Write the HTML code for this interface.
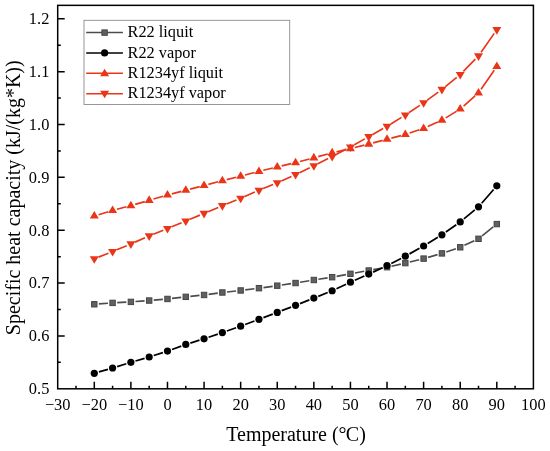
<!DOCTYPE html><html><head><meta charset="utf-8"><title>Specific heat capacity</title><style>html,body{margin:0;padding:0;background:#fff}svg{display:block}</style></head><body>
<svg width="550" height="451" viewBox="0 0 550 451">
<rect width="550" height="451" fill="#fff"/>
<path d="M98.88 303.92L108.00 303.24M117.18 302.64L126.29 302.13M135.47 301.55L144.59 300.89M153.76 300.15L162.89 299.36M172.05 298.43L181.20 297.37M190.35 296.37L199.49 295.44M208.63 294.36L217.81 293.10M226.94 291.98L236.09 290.97M245.23 289.90L254.39 288.75M263.52 287.56L272.70 286.31M281.81 285.03L291.00 283.69M300.09 282.28L309.31 280.76M318.39 279.30L327.60 277.89M336.66 276.35L345.92 274.63M354.97 272.98L364.21 271.31M373.26 269.68L382.50 268.02M391.52 266.20L400.84 264.12M409.79 262.02L419.16 259.71M428.05 257.35L437.49 254.66M446.28 251.94L455.85 248.75M464.39 245.36L474.34 240.74M482.10 235.92L493.22 226.97" stroke="#4c4c4c" stroke-width="1.65" fill="none"/>
<rect x="91.59" y="301.57" width="5.4" height="5.4" fill="#606060" stroke="#454545" stroke-width="1"/><rect x="109.89" y="300.19" width="5.4" height="5.4" fill="#606060" stroke="#454545" stroke-width="1"/><rect x="128.18" y="299.18" width="5.4" height="5.4" fill="#606060" stroke="#454545" stroke-width="1"/><rect x="146.48" y="297.85" width="5.4" height="5.4" fill="#606060" stroke="#454545" stroke-width="1"/><rect x="164.78" y="296.26" width="5.4" height="5.4" fill="#606060" stroke="#454545" stroke-width="1"/><rect x="183.07" y="294.14" width="5.4" height="5.4" fill="#606060" stroke="#454545" stroke-width="1"/><rect x="201.37" y="292.28" width="5.4" height="5.4" fill="#606060" stroke="#454545" stroke-width="1"/><rect x="219.67" y="289.78" width="5.4" height="5.4" fill="#606060" stroke="#454545" stroke-width="1"/><rect x="237.96" y="287.76" width="5.4" height="5.4" fill="#606060" stroke="#454545" stroke-width="1"/><rect x="256.26" y="285.48" width="5.4" height="5.4" fill="#606060" stroke="#454545" stroke-width="1"/><rect x="274.55" y="282.99" width="5.4" height="5.4" fill="#606060" stroke="#454545" stroke-width="1"/><rect x="292.85" y="280.33" width="5.4" height="5.4" fill="#606060" stroke="#454545" stroke-width="1"/><rect x="311.15" y="277.30" width="5.4" height="5.4" fill="#606060" stroke="#454545" stroke-width="1"/><rect x="329.44" y="274.49" width="5.4" height="5.4" fill="#606060" stroke="#454545" stroke-width="1"/><rect x="347.74" y="271.09" width="5.4" height="5.4" fill="#606060" stroke="#454545" stroke-width="1"/><rect x="366.03" y="267.80" width="5.4" height="5.4" fill="#606060" stroke="#454545" stroke-width="1"/><rect x="384.33" y="264.51" width="5.4" height="5.4" fill="#606060" stroke="#454545" stroke-width="1"/><rect x="402.63" y="260.42" width="5.4" height="5.4" fill="#606060" stroke="#454545" stroke-width="1"/><rect x="420.92" y="255.91" width="5.4" height="5.4" fill="#606060" stroke="#454545" stroke-width="1"/><rect x="439.22" y="250.70" width="5.4" height="5.4" fill="#606060" stroke="#454545" stroke-width="1"/><rect x="457.52" y="244.59" width="5.4" height="5.4" fill="#606060" stroke="#454545" stroke-width="1"/><rect x="475.81" y="236.10" width="5.4" height="5.4" fill="#606060" stroke="#454545" stroke-width="1"/><rect x="494.11" y="221.39" width="5.4" height="5.4" fill="#606060" stroke="#454545" stroke-width="1"/>
<path d="M98.90 371.96L107.98 369.33M117.17 366.57L126.30 363.73M135.49 360.97L144.57 358.34M153.75 355.53L162.91 352.58M171.99 349.47L181.26 346.10M190.36 343.04L199.49 340.21M208.61 337.24L217.82 334.12M226.90 330.99L236.13 327.78M245.15 324.51L254.47 320.99M263.45 317.60L272.76 314.09M281.73 310.67L291.07 307.06M300.01 303.57L309.38 299.87M318.30 296.32L327.69 292.53M336.49 288.70L346.09 284.21M354.83 280.24L364.34 276.05M373.10 272.11L382.67 267.72M391.29 263.51L401.07 258.43M409.52 253.88L419.43 248.36M427.72 243.51L437.83 237.32M445.85 232.06L456.29 224.72M463.91 218.91L474.81 209.89M481.67 203.22L493.65 189.48" stroke="#000000" stroke-width="1.75" fill="none"/>
<circle cx="94.29" cy="373.30" r="3.6" fill="#000000"/><circle cx="112.59" cy="367.99" r="3.6" fill="#000000"/><circle cx="130.88" cy="362.31" r="3.6" fill="#000000"/><circle cx="149.18" cy="357.00" r="3.6" fill="#000000"/><circle cx="167.48" cy="351.11" r="3.6" fill="#000000"/><circle cx="185.77" cy="344.47" r="3.6" fill="#000000"/><circle cx="204.07" cy="338.79" r="3.6" fill="#000000"/><circle cx="222.37" cy="332.57" r="3.6" fill="#000000"/><circle cx="240.66" cy="326.20" r="3.6" fill="#000000"/><circle cx="258.96" cy="319.30" r="3.6" fill="#000000"/><circle cx="277.25" cy="312.40" r="3.6" fill="#000000"/><circle cx="295.55" cy="305.33" r="3.6" fill="#000000"/><circle cx="313.85" cy="298.11" r="3.6" fill="#000000"/><circle cx="332.14" cy="290.73" r="3.6" fill="#000000"/><circle cx="350.44" cy="282.18" r="3.6" fill="#000000"/><circle cx="368.73" cy="274.11" r="3.6" fill="#000000"/><circle cx="387.03" cy="265.72" r="3.6" fill="#000000"/><circle cx="405.33" cy="256.22" r="3.6" fill="#000000"/><circle cx="423.62" cy="246.02" r="3.6" fill="#000000"/><circle cx="441.92" cy="234.82" r="3.6" fill="#000000"/><circle cx="460.22" cy="221.97" r="3.6" fill="#000000"/><circle cx="478.51" cy="206.83" r="3.6" fill="#000000"/><circle cx="496.81" cy="185.86" r="3.6" fill="#000000"/>
<path d="M98.60 214.69L108.28 211.73M116.94 209.28L126.53 206.78M135.21 204.39L144.86 201.59M153.50 199.08L163.16 196.28M171.83 193.89L181.42 191.38M190.13 189.11L199.72 186.60M208.42 184.33L218.01 181.82M226.73 179.61L236.29 177.25M245.02 175.04L254.60 172.53M263.33 170.32L272.88 167.96M281.64 165.86L291.17 163.65M299.90 161.49L309.49 158.99M318.19 156.67L327.80 154.05M336.52 151.83L346.06 149.59M354.81 147.48L364.37 145.12M373.09 142.91L382.68 140.41M391.38 138.13L400.97 135.63M409.60 133.06L419.35 129.81M427.74 126.56L437.81 122.08M445.75 117.90L456.38 111.36M463.60 106.04L475.12 95.98M481.07 89.31L494.25 70.22" stroke="#ea3518" stroke-width="1.65" fill="none"/>
<path d="M89.79 218.60L98.79 218.60L94.29 211.00Z" fill="#ea3518"/><path d="M108.09 213.02L117.09 213.02L112.59 205.42Z" fill="#ea3518"/><path d="M126.38 208.24L135.38 208.24L130.88 200.64Z" fill="#ea3518"/><path d="M144.68 202.93L153.68 202.93L149.18 195.33Z" fill="#ea3518"/><path d="M162.98 197.62L171.98 197.62L167.48 190.02Z" fill="#ea3518"/><path d="M181.27 192.84L190.27 192.84L185.77 185.24Z" fill="#ea3518"/><path d="M199.57 188.06L208.57 188.06L204.07 180.46Z" fill="#ea3518"/><path d="M217.87 183.29L226.87 183.29L222.37 175.69Z" fill="#ea3518"/><path d="M236.16 178.77L245.16 178.77L240.66 171.17Z" fill="#ea3518"/><path d="M254.46 173.99L263.46 173.99L258.96 166.39Z" fill="#ea3518"/><path d="M272.75 169.48L281.75 169.48L277.25 161.88Z" fill="#ea3518"/><path d="M291.05 165.23L300.05 165.23L295.55 157.63Z" fill="#ea3518"/><path d="M309.35 160.45L318.35 160.45L313.85 152.85Z" fill="#ea3518"/><path d="M327.64 155.46L336.64 155.46L332.14 147.86Z" fill="#ea3518"/><path d="M345.94 151.16L354.94 151.16L350.44 143.56Z" fill="#ea3518"/><path d="M364.23 146.65L373.23 146.65L368.73 139.05Z" fill="#ea3518"/><path d="M382.53 141.87L391.53 141.87L387.03 134.27Z" fill="#ea3518"/><path d="M400.83 137.09L409.83 137.09L405.33 129.49Z" fill="#ea3518"/><path d="M419.12 130.98L428.12 130.98L423.62 123.38Z" fill="#ea3518"/><path d="M437.42 122.86L446.42 122.86L441.92 115.26Z" fill="#ea3518"/><path d="M455.72 111.60L464.72 111.60L460.22 104.00Z" fill="#ea3518"/><path d="M474.01 95.62L483.01 95.62L478.51 88.02Z" fill="#ea3518"/><path d="M492.31 69.12L501.31 69.12L496.81 61.52Z" fill="#ea3518"/>
<path d="M98.47 257.12L108.41 253.17M116.74 249.79L126.73 245.64M135.01 242.12L145.05 237.75M153.35 234.26L163.31 230.21M171.65 226.83L181.60 222.78M189.92 219.34L199.92 215.13M208.22 211.64L218.22 207.43M226.53 203.99L236.49 199.95M244.79 196.46L254.83 192.08M263.13 188.59L273.08 184.55M281.36 181.01L291.45 176.47M299.61 172.68L309.79 167.80M317.86 163.82L328.13 158.61M336.13 154.48L346.45 149.09M354.35 144.79L364.82 138.87M372.65 134.44L383.11 128.52M390.86 123.94L401.49 117.40M409.07 112.55L419.88 105.33M427.25 100.17L438.29 92.06M445.41 86.56L456.72 77.37M463.37 71.32L475.35 59.15M481.08 52.25L494.24 33.35" stroke="#ea3518" stroke-width="1.65" fill="none"/>
<path d="M89.79 256.19L98.79 256.19L94.29 263.79Z" fill="#ea3518"/><path d="M108.09 248.91L117.09 248.91L112.59 256.51Z" fill="#ea3518"/><path d="M126.38 241.32L135.38 241.32L130.88 248.92Z" fill="#ea3518"/><path d="M144.68 233.35L153.68 233.35L149.18 240.95Z" fill="#ea3518"/><path d="M162.98 225.92L171.98 225.92L167.48 233.52Z" fill="#ea3518"/><path d="M181.27 218.49L190.27 218.49L185.77 226.09Z" fill="#ea3518"/><path d="M199.57 210.79L208.57 210.79L204.07 218.39Z" fill="#ea3518"/><path d="M217.87 203.09L226.87 203.09L222.37 210.69Z" fill="#ea3518"/><path d="M236.16 195.65L245.16 195.65L240.66 203.25Z" fill="#ea3518"/><path d="M254.46 187.69L263.46 187.69L258.96 195.29Z" fill="#ea3518"/><path d="M272.75 180.25L281.75 180.25L277.25 187.85Z" fill="#ea3518"/><path d="M291.05 172.02L300.05 172.02L295.55 179.62Z" fill="#ea3518"/><path d="M309.35 163.26L318.35 163.26L313.85 170.86Z" fill="#ea3518"/><path d="M327.64 153.97L336.64 153.97L332.14 161.57Z" fill="#ea3518"/><path d="M345.94 144.41L354.94 144.41L350.44 152.01Z" fill="#ea3518"/><path d="M364.23 134.06L373.23 134.06L368.73 141.66Z" fill="#ea3518"/><path d="M382.53 123.70L391.53 123.70L387.03 131.30Z" fill="#ea3518"/><path d="M400.83 112.44L409.83 112.44L405.33 120.04Z" fill="#ea3518"/><path d="M419.12 100.23L428.12 100.23L423.62 107.83Z" fill="#ea3518"/><path d="M437.42 86.80L446.42 86.80L441.92 94.40Z" fill="#ea3518"/><path d="M455.72 71.93L464.72 71.93L460.22 79.53Z" fill="#ea3518"/><path d="M474.01 53.34L483.01 53.34L478.51 60.94Z" fill="#ea3518"/><path d="M492.31 27.06L501.31 27.06L496.81 34.66Z" fill="#ea3518"/>
<rect x="57.7" y="5.35" width="475.70" height="383.45" fill="none" stroke="#000" stroke-width="1.5"/>
<path d="M76.00 388.8v-3.1M94.29 388.8v-7M112.59 388.8v-3.1M130.88 388.8v-7M149.18 388.8v-3.1M167.48 388.8v-7M185.77 388.8v-3.1M204.07 388.8v-7M222.37 388.8v-3.1M240.66 388.8v-7M258.96 388.8v-3.1M277.25 388.8v-7M295.55 388.8v-3.1M313.85 388.8v-7M332.14 388.8v-3.1M350.44 388.8v-7M368.73 388.8v-3.1M387.03 388.8v-7M405.33 388.8v-3.1M423.62 388.8v-7M441.92 388.8v-3.1M460.22 388.8v-7M478.51 388.8v-3.1M496.81 388.8v-7M515.10 388.8v-3.1M57.7 362.37h3.1M57.7 335.94h7M57.7 309.51h3.1M57.7 283.08h7M57.7 256.65h3.1M57.7 230.22h7M57.7 203.79h3.1M57.7 177.36h7M57.7 150.93h3.1M57.7 124.50h7M57.7 98.07h3.1M57.7 71.64h7M57.7 45.21h3.1M57.7 18.78h7" stroke="#000" stroke-width="1.5" fill="none"/>
<g font-family="Liberation Serif, Times New Roman, serif" font-size="16.4" fill="#000">
<text x="57.70" y="410" text-anchor="middle">−30</text>
<text x="94.29" y="410" text-anchor="middle">−20</text>
<text x="130.88" y="410" text-anchor="middle">−10</text>
<text x="167.48" y="410" text-anchor="middle">0</text>
<text x="204.07" y="410" text-anchor="middle">10</text>
<text x="240.66" y="410" text-anchor="middle">20</text>
<text x="277.25" y="410" text-anchor="middle">30</text>
<text x="313.85" y="410" text-anchor="middle">40</text>
<text x="350.44" y="410" text-anchor="middle">50</text>
<text x="387.03" y="410" text-anchor="middle">60</text>
<text x="423.62" y="410" text-anchor="middle">70</text>
<text x="460.22" y="410" text-anchor="middle">80</text>
<text x="496.81" y="410" text-anchor="middle">90</text>
<text x="533.40" y="410" text-anchor="middle">100</text>
<text x="49.35" y="394.15" text-anchor="end">0.5</text>
<text x="49.35" y="341.29" text-anchor="end">0.6</text>
<text x="49.35" y="288.43" text-anchor="end">0.7</text>
<text x="49.35" y="235.57" text-anchor="end">0.8</text>
<text x="49.35" y="182.71" text-anchor="end">0.9</text>
<text x="49.35" y="129.85" text-anchor="end">1.0</text>
<text x="49.35" y="76.99" text-anchor="end">1.1</text>
<text x="49.35" y="24.13" text-anchor="end">1.2</text>
</g>
<text x="226.2" y="440.7" font-family="Liberation Serif, Times New Roman, serif" font-size="20" fill="#000">Temperature (°<tspan dx="-0.8">C)</tspan></text>
<text transform="translate(19.7,335.2) rotate(-90)" font-family="Liberation Serif, Times New Roman, serif" font-size="20" fill="#000">Specific heat capacity (kJ/(kg*K))</text>
<rect x="84" y="20.3" width="205.7" height="84.2" fill="#fff" stroke="#8c8c8c" stroke-width="0.9"/>
<path d="M86.2 32.60H122.9" stroke="#4c4c4c" stroke-width="1.5"/>
<rect x="101.90" y="29.90" width="5.4" height="5.4" fill="#606060" stroke="#454545" stroke-width="1"/>
<text x="127.6" y="37.20" font-family="Liberation Serif, Times New Roman, serif" font-size="16.3" fill="#000">R22 liquit</text>
<path d="M86.2 52.95H122.9" stroke="#000000" stroke-width="1.5"/>
<circle cx="104.60" cy="52.95" r="3.6" fill="#000000"/>
<text x="127.6" y="57.55" font-family="Liberation Serif, Times New Roman, serif" font-size="16.3" fill="#000">R22 vapor</text>
<path d="M86.2 73.30H122.9" stroke="#ea3518" stroke-width="1.5"/>
<path d="M100.10 76.30L109.10 76.30L104.60 68.70Z" fill="#ea3518"/>
<text x="127.6" y="77.90" font-family="Liberation Serif, Times New Roman, serif" font-size="16.3" fill="#000">R1234yf liquit</text>
<path d="M86.2 93.65H122.9" stroke="#ea3518" stroke-width="1.5"/>
<path d="M100.10 90.65L109.10 90.65L104.60 98.25Z" fill="#ea3518"/>
<text x="127.6" y="98.25" font-family="Liberation Serif, Times New Roman, serif" font-size="16.3" fill="#000">R1234yf vapor</text>
</svg></body></html>
